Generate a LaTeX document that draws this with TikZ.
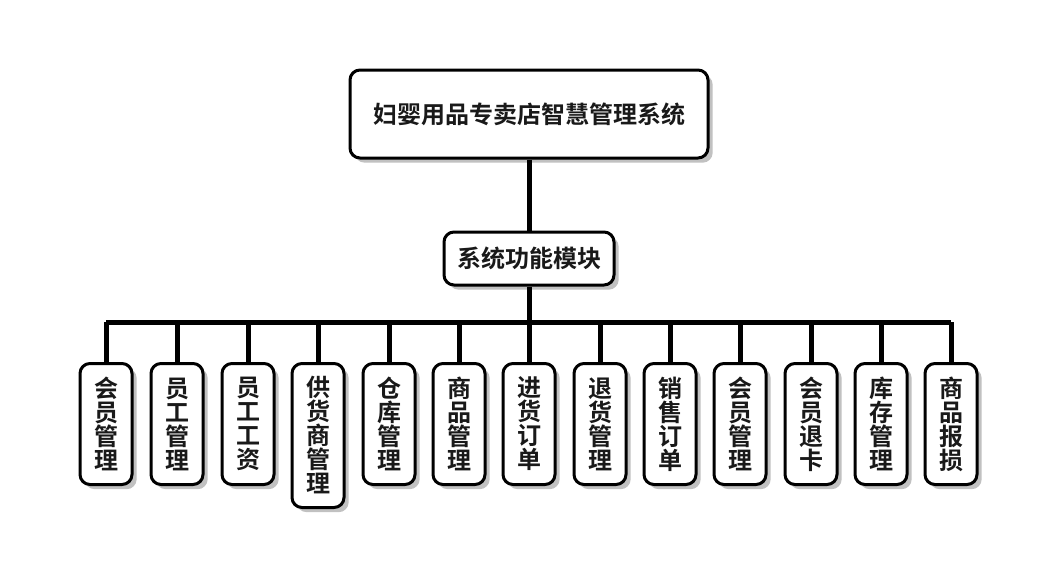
\documentclass[tikz,border=0pt]{standalone}
\usepackage{fontspec}
\newfontfamily\cjk{Noto Sans CJK SC}[BoldFont={* Bold}]
\usetikzlibrary{shadows}
\begin{document}
\begin{tikzpicture}[x=0.75pt,y=-0.75pt,
  box/.style={draw=black,line width=2.25pt,rounded corners=7.5pt,fill=white,
    drop shadow={shadow xshift=3.5pt,shadow yshift=-3.5pt,opacity=0.35,fill=black!70},
    font=\cjk\bfseries,text=black!90,inner sep=0pt,align=center},
  leaf/.style={box,anchor=north,minimum width=39pt,font=\cjk\bfseries\fontsize{18}{18}\selectfont},
  link/.style={line width=3.75pt,draw=black}]
\useasboundingbox (0,0) rectangle (1057,583);
\node[box,minimum width=268.5pt,minimum height=66pt,font=\cjk\bfseries\fontsize{18}{20}\selectfont] (top) at (529,114) {妇婴用品专卖店智慧管理系统};
\node[box,minimum width=127.5pt,minimum height=39.75pt,font=\cjk\bfseries\fontsize{18}{20}\selectfont] (mid) at (529,258.5) {系统功能模块};
\coordinate (bus) at (529,322);
\node[leaf,minimum height=90.75pt] (l1) at (106,362) {会\\员\\管\\理};
\node[leaf,minimum height=90.75pt] (l2) at (177,362) {员\\工\\管\\理};
\node[leaf,minimum height=90.75pt] (l3) at (248,362) {员\\工\\工\\资};
\node[leaf,minimum height=108pt] (l4) at (318,362) {供\\货\\商\\管\\理};
\node[leaf,minimum height=90.75pt] (l5) at (389,362) {仓\\库\\管\\理};
\node[leaf,minimum height=90.75pt] (l6) at (459,362) {商\\品\\管\\理};
\node[leaf,minimum height=90.75pt] (l7) at (529,362) {进\\货\\订\\单};
\node[leaf,minimum height=90.75pt] (l8) at (600,362) {退\\货\\管\\理};
\node[leaf,minimum height=90.75pt] (l9) at (670,362) {销\\售\\订\\单};
\node[leaf,minimum height=90.75pt] (l10) at (740,362) {会\\员\\管\\理};
\node[leaf,minimum height=90.75pt] (l11) at (811,362) {会\\员\\退\\卡};
\node[leaf,minimum height=90.75pt] (l12) at (881,362) {库\\存\\管\\理};
\node[leaf,minimum height=90.75pt] (l13) at (951,362) {商\\品\\报\\损};
\draw[link] (top.south) -- (mid.north);
\draw[link] (mid.south) -- (bus);
\draw[link] (l1.north |- bus) -- (l13.north |- bus);
\foreach \i in {1,...,13} {\draw[link] (l\i.north |- bus) -- (l\i.north);}
\end{tikzpicture}
\end{document}
